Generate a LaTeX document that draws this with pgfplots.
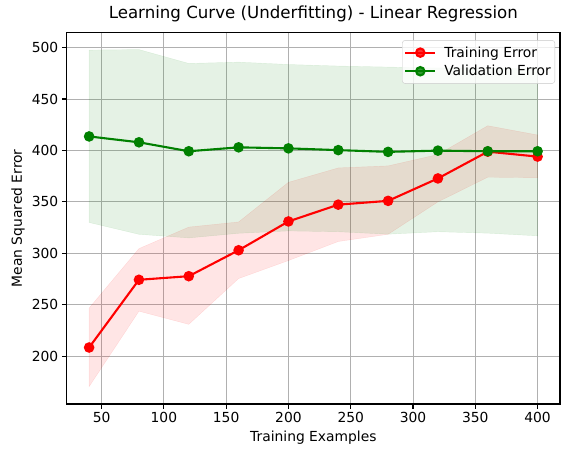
\documentclass[border=0pt]{standalone}
\usepackage{fontspec}
\setmainfont{DejaVu Sans}
\usepackage{pgfplots}
\pgfplotsset{compat=1.18}

\definecolor{mplgrid}{HTML}{B0B0B0}
\definecolor{mplgreen}{rgb}{0,0.5,0}

\begin{document}
\begin{tikzpicture}
\useasboundingbox (-66.7bp,-51bp) rectangle (504.3bp,404bp);
\begin{axis}[
    at={(0,0)}, anchor=south west,
    scale only axis,
    width=493.3bp, height=371.3bp,
    xmin=22, xmax=418,
    ymin=153.6, ymax=514.4,
    xtick={50,100,...,400},
    ytick={200,250,...,500},
    tick align=outside, tick pos=left,
    major tick length=4.9bp,
    grid=major,
    grid style={mplgrid, line width=0.9bp},
    axis line style={line width=1.1bp},
    every tick/.style={black, line width=1.1bp},
    /pgf/number format/assume math mode=true,
    ticklabel style={font=\fontsize{13.9}{16}\selectfont},
    title={Learning Curve (Underfitting) - Linear Regression},
    title style={at={(0.5,1)}, anchor=base, yshift=8.3bp, font=\fontsize{16.7}{19}\selectfont},
    xlabel={Training Examples},
    ylabel={Mean Squared Error},
    label style={font=\fontsize{13.9}{16}\selectfont},
    xlabel style={at={([yshift=-37bp]axis description cs:0.5,0)}, anchor=base},
    ylabel style={at={([xshift=-44.7bp]axis description cs:0,0.5)}, anchor=base},
    legend style={at={(0.99,0.98)}, anchor=north east, draw=mplgrid!70, rounded corners=3bp,
        fill=white, fill opacity=0.8, text opacity=1,
        font=\fontsize{13.9}{16}\selectfont, inner xsep=2bp, inner ysep=3bp, row sep=0bp,
        nodes={inner xsep=2bp, inner ysep=3.3bp},
        /tikz/every odd column/.append style={column sep=6bp}},
    legend cell align=left,
    legend image code/.code={
        \draw[#1, mark repeat=2, mark phase=2] plot coordinates {(0bp,0bp) (15bp,0bp) (30bp,0bp)};
    },
]
% training band
\addplot[fill=red, fill opacity=0.1, draw=red, draw opacity=0.1, forget plot] coordinates {
    (40,246.8) (80,304.6) (120,325.5) (160,330.5) (200,369) (240,383) (280,385) (320,396) (360,424) (400,415)
    (400,373.5) (360,374) (320,350) (280,318.5) (240,311.5) (200,293) (160,275.5) (120,231) (80,243.8) (40,170.5)
} -- cycle;
% validation band
\addplot[fill=mplgreen, fill opacity=0.1, draw=mplgreen, draw opacity=0.1, forget plot] coordinates {
    (40,497.5) (80,498) (120,484.5) (160,485.8) (200,483.5) (240,482) (280,481) (320,480) (360,480) (400,479.7)
    (400,317) (360,319.6) (320,321) (280,318.6) (240,321) (200,321.8) (160,319.5) (120,315) (80,318.5) (40,330)
} -- cycle;
\addplot[red, line width=2.1bp, mark=*, mark size=4.2bp, mark options={solid}] coordinates {
    (40,208.5) (80,274.3) (120,277.8) (160,303) (200,331) (240,347.3) (280,351) (320,372.8) (360,398.8) (400,394)
};
\addlegendentry{Training Error}
\addplot[mplgreen, line width=2.1bp, mark=*, mark size=4.2bp, mark options={solid}] coordinates {
    (40,413.6) (80,407.9) (120,399.2) (160,403) (200,402) (240,400.3) (280,398.6) (320,399.8) (360,399.2) (400,399.2)
};
\addlegendentry{Validation Error}
\end{axis}
\end{tikzpicture}
\end{document}
